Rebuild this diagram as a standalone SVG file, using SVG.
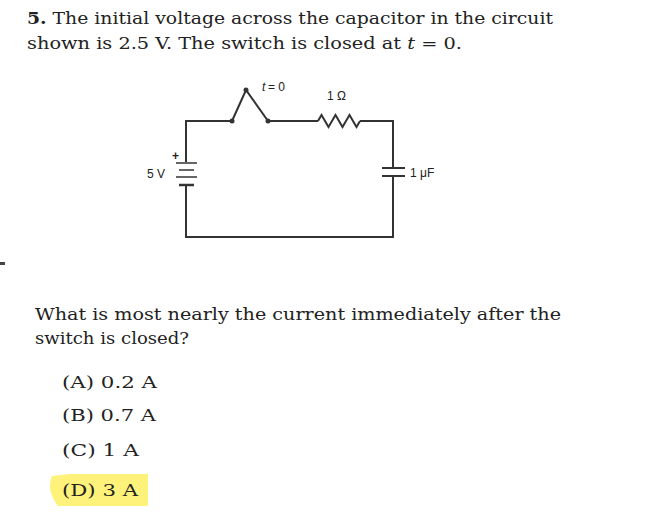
<svg xmlns="http://www.w3.org/2000/svg" width="658" height="513" viewBox="0 0 658 513">
<style>
.t{font-family:"DejaVu Serif",serif;font-size:17px;fill:#222}
.s{font-family:"Liberation Sans",sans-serif;font-size:12px;fill:#222}
.w{stroke:#333;stroke-width:2;fill:none}
</style>
<rect width="658" height="513" fill="#fff"/>
<rect x="0" y="262" width="5" height="3" fill="#444"/>
<path d="M52,476 Q46,490 58,506 L148,506 L148,474 L70,474 Z" fill="#fff27a"/>
<text class="t" x="27" y="24" textLength="526" lengthAdjust="spacingAndGlyphs"><tspan font-weight="bold">5.</tspan> The initial voltage across the capacitor in the circuit</text>
<text class="t" x="27" y="49" textLength="435" lengthAdjust="spacingAndGlyphs">shown is 2.5 V. The switch is closed at <tspan font-style="italic">t</tspan> = 0.</text>
<g id="wires" class="w">
<path d="M232,121 H186 V162"/>
<path d="M186,186 V237 H393 V176"/>
<path d="M393,168 V121 H360"/>
<path d="M268,121 H318"/>
<path d="M318,121 l3.5,-6 l7,12 l7,-12 l7,12 l7,-12 l7,12 l3.5,-6"/>
<path d="M232,121 L246,90 L268,121"/>
</g>
<g id="switch" fill="#333">
<circle cx="232" cy="121" r="2.5"/><circle cx="246" cy="90" r="2.5"/><circle cx="268" cy="121" r="2.5"/>
<text class="s" x="262" y="91" font-style="italic">t</text><text class="s" x="268" y="91">= 0</text>
</g>
<g id="resistor"><text class="s" x="327" y="100">1 Ω</text></g>
<g id="battery" class="w">
<line x1="176" y1="163" x2="197" y2="163" stroke-width="1.5"/>
<line x1="179" y1="170" x2="194" y2="170" stroke-width="1.5"/>
<line x1="176" y1="177" x2="197" y2="177" stroke-width="1.5"/>
<line x1="179" y1="185" x2="194" y2="185" stroke-width="2.5"/>
<text class="s" x="172" y="160" stroke="none" fill="#222" font-weight="bold">+</text>
<text class="s" x="147" y="178" stroke="none" fill="#222">5 V</text>
</g>
<g id="capacitor" class="w">
<line x1="382" y1="168" x2="405" y2="168"/>
<line x1="382" y1="176" x2="405" y2="176"/>
<text class="s" x="410" y="177" stroke="none" fill="#222">1 μF</text>
</g>
<text class="t" x="35" y="320" textLength="526" lengthAdjust="spacingAndGlyphs">What is most nearly the current immediately after the</text>
<text class="t" x="35" y="344" textLength="154" lengthAdjust="spacingAndGlyphs">switch is closed?</text>
<text class="t" x="62" y="388" textLength="95" lengthAdjust="spacingAndGlyphs">(A) 0.2 A</text>
<text class="t" x="62" y="421" textLength="94" lengthAdjust="spacingAndGlyphs">(B) 0.7 A</text>
<text class="t" x="62" y="456" textLength="77" lengthAdjust="spacingAndGlyphs">(C) 1 A</text>
<text class="t" x="62" y="496" textLength="76" lengthAdjust="spacingAndGlyphs">(D) 3 A</text>
</svg>
